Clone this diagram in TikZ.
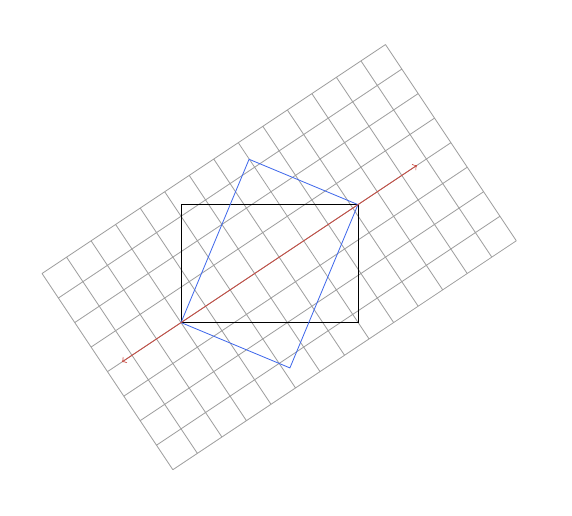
\documentclass[tikz,border=0pt]{standalone}
\usepackage{tikz}
\usetikzlibrary{calc}
\definecolor{flipblue}{RGB}{65,105,235}
\definecolor{diagred}{RGB}{200,75,65}
\tikzset{
    gridline/.style = {gray!75,thin},
    box/.style = {black,thin},
    flipbox/.style = {flipblue,thin},
    diag/.style = {diagred,thin,<->}
}

\begin{document}
\begin{tikzpicture}
        \useasboundingbox (-3.07,-3.27) rectangle (6.63,5.47);
        % Rotated grid
        \begin{scope}[rotate={atan2(2,3)}]
            \draw[gridline] (-1.5,-2) grid[step=0.5] (5.5,2);
        \end{scope}
        % Corners
        \coordinate (O) at (0,0);
        \coordinate (A) at (3,0);
        \coordinate (C) at (3,2);
        \coordinate (B) at (0,2);
        \coordinate (A') at (15/13,36/13);
        \coordinate (B') at (24/13,-10/13);
        % Rectangles
        \draw[box] (O) -- (A) -- (C) -- (B) -- cycle;
        \draw[flipbox] (O) -- (A') -- (C) -- (B') -- cycle;
        % Diagonal
        \coordinate (dstart) at ($(O)!-1/3!(C)$);
        \coordinate (dend) at ($(O)!4/3!(C)$);
        \draw[diag] (dstart) -- (dend);
\end{tikzpicture}
\end{document}
